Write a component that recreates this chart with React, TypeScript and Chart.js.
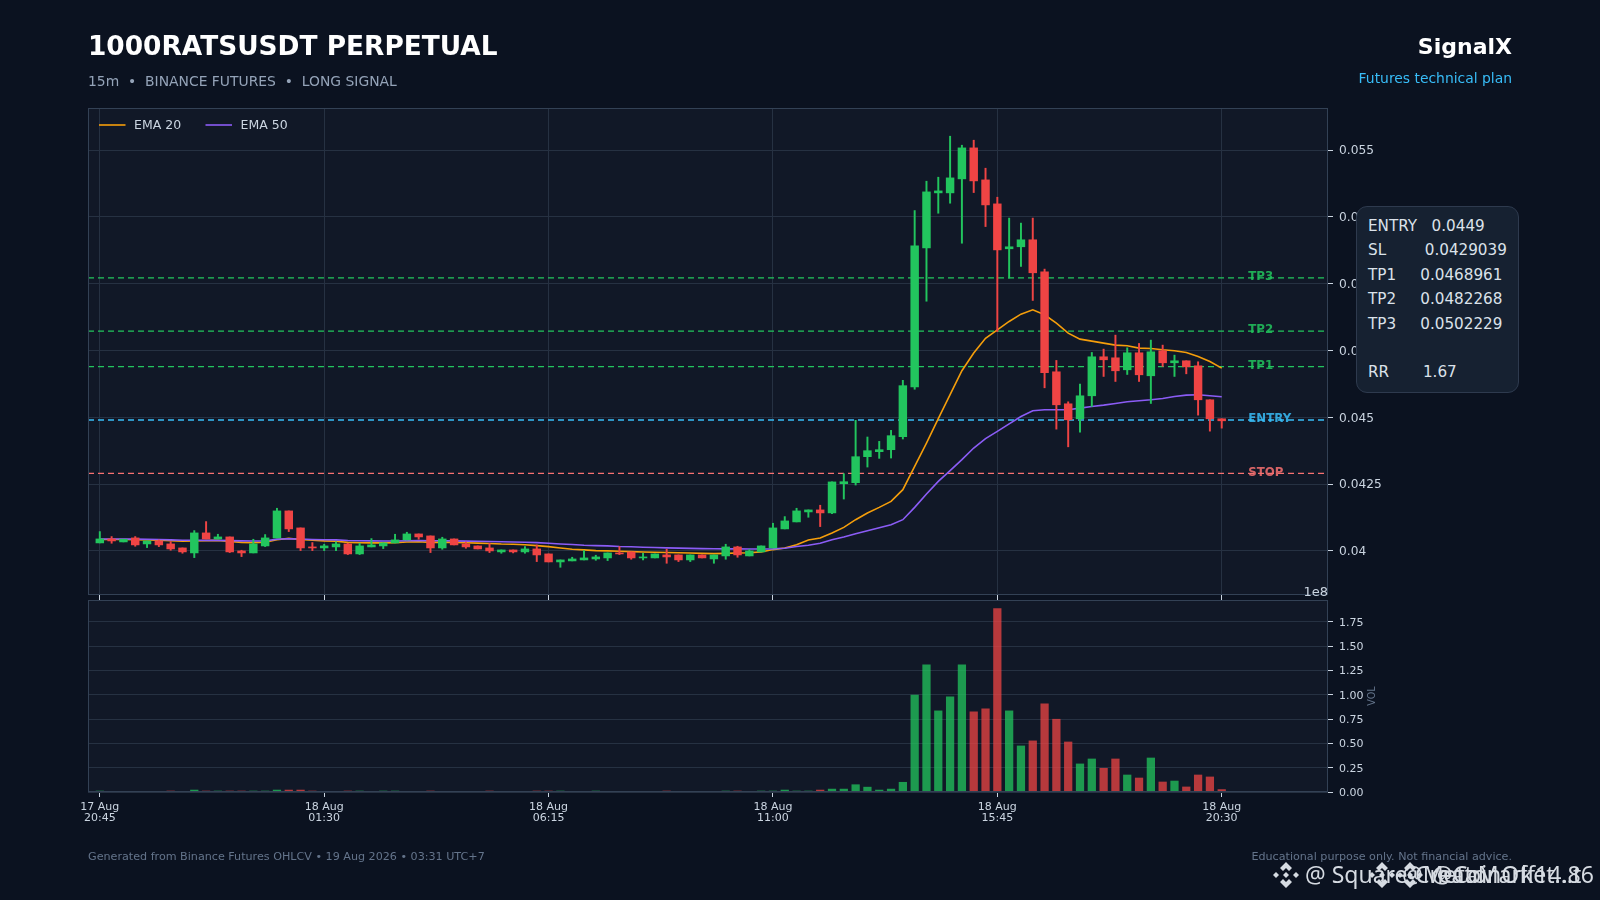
import React, { useEffect, useRef } from "react";
import { Chart, registerables } from "chart.js";

Chart.register(...registerables);

const FONT = '"DejaVu Sans", sans-serif';

const opens = [
  0.0403, 0.040449, 0.040337, 0.040487, 0.040262, 0.040374, 0.040262, 0.040112, 0.039925, 0.040674,
  0.040449, 0.040524, 0.04, 0.039925, 0.040187, 0.040487, 0.041498, 0.040861, 0.04015, 0.040112,
  0.04015, 0.040262, 0.039888, 0.04015, 0.040187, 0.0403, 0.040412, 0.040636, 0.040562, 0.040112,
  0.040449, 0.040262, 0.040187, 0.040112, 0.039963, 0.040037, 0.039963, 0.040075, 0.039888, 0.039588,
  0.039626, 0.039663, 0.0397, 0.039738, 0.039925, 0.039963, 0.039738, 0.039738, 0.03985, 0.03985,
  0.039663, 0.03985, 0.0397, 0.039813, 0.04015, 0.039813, 0.039963, 0.040112, 0.040824, 0.041086,
  0.04146, 0.041535, 0.041423, 0.042516, 0.042554, 0.043527, 0.043715, 0.043789, 0.044276, 0.046139,
  0.051343, 0.053403, 0.053403, 0.053927, 0.055087, 0.053889, 0.052991, 0.05131, 0.051385, 0.051647,
  0.050449, 0.046705, 0.045507, 0.044946, 0.045807, 0.047267, 0.047229, 0.04678, 0.047417, 0.046556,
  0.047491, 0.047042, 0.047117, 0.04693, 0.045657, 0.044946,
];
const highs = [
  0.040724, 0.040537, 0.040437, 0.040537, 0.040374, 0.040412, 0.040349, 0.040112, 0.040761, 0.041098,
  0.040624, 0.040524, 0.040025, 0.040437, 0.040612, 0.041597, 0.041498, 0.040861, 0.040312, 0.04025,
  0.040337, 0.040287, 0.040287, 0.040462, 0.0403, 0.040624, 0.040699, 0.040636, 0.040562, 0.040512,
  0.040449, 0.040337, 0.040187, 0.040287, 0.040037, 0.040037, 0.040162, 0.040225, 0.039888, 0.039663,
  0.039763, 0.040012, 0.039838, 0.039925, 0.040162, 0.039963, 0.039913, 0.039888, 0.040062, 0.03985,
  0.03985, 0.03985, 0.03985, 0.04025, 0.040175, 0.04005, 0.040187, 0.041036, 0.041285, 0.041597,
  0.041535, 0.04171, 0.042583, 0.042891, 0.044888, 0.044264, 0.044101, 0.044513, 0.046385, 0.052741,
  0.053839, 0.053989, 0.055524, 0.055187, 0.055374, 0.054326, 0.05324, 0.052459, 0.052271, 0.052459,
  0.050549, 0.04713, 0.045582, 0.046244, 0.047429, 0.047554, 0.048078, 0.047604, 0.047766, 0.047891,
  0.047704, 0.047329, 0.047117, 0.04708, 0.045657, 0.044946,
];
const lows = [
  0.0403, 0.040287, 0.040337, 0.040175, 0.040125, 0.040162, 0.040025, 0.039913, 0.03975, 0.040449,
  0.040449, 0.039938, 0.039788, 0.039925, 0.040162, 0.040487, 0.040724, 0.040012, 0.040012, 0.040012,
  0.040012, 0.039863, 0.039863, 0.04015, 0.040087, 0.0403, 0.040412, 0.040437, 0.039938, 0.040062,
  0.040225, 0.0401, 0.040075, 0.039938, 0.039913, 0.039925, 0.039913, 0.039601, 0.039588, 0.039388,
  0.039626, 0.039663, 0.03965, 0.039638, 0.039863, 0.039688, 0.039663, 0.039738, 0.039538, 0.039601,
  0.039601, 0.039738, 0.039538, 0.039688, 0.039763, 0.039813, 0.039963, 0.040112, 0.040824, 0.041086,
  0.04126, 0.040911, 0.041398, 0.041942, 0.042467, 0.04314, 0.043465, 0.043477, 0.044189, 0.046052,
  0.049347, 0.052641, 0.053016, 0.051518, 0.053415, 0.052142, 0.048211, 0.050212, 0.050649, 0.049376,
  0.046106, 0.044559, 0.043897, 0.044446, 0.045407, 0.046531, 0.046343, 0.046605, 0.046343, 0.04552,
  0.046905, 0.046531, 0.04663, 0.045083, 0.044484, 0.044596,
];
const closes = [
  0.040449, 0.040374, 0.040437, 0.040225, 0.040374, 0.040225, 0.040075, 0.039963, 0.040674, 0.040449,
  0.040524, 0.039963, 0.039925, 0.040262, 0.040487, 0.041498, 0.040824, 0.040112, 0.040112, 0.040187,
  0.040262, 0.039888, 0.040187, 0.040225, 0.0403, 0.040412, 0.040636, 0.040524, 0.040112, 0.040449,
  0.040225, 0.04015, 0.040075, 0.04, 0.040037, 0.039963, 0.040075, 0.03985, 0.039588, 0.039663,
  0.0397, 0.039738, 0.039775, 0.039925, 0.039888, 0.039738, 0.039775, 0.039888, 0.039775, 0.039663,
  0.03985, 0.039738, 0.03985, 0.04015, 0.03985, 0.04, 0.040187, 0.040861, 0.041123, 0.041498,
  0.041535, 0.041423, 0.042583, 0.042591, 0.043527, 0.043752, 0.043789, 0.044314, 0.046186, 0.051418,
  0.05344, 0.053477, 0.053964, 0.055087, 0.053852, 0.052953, 0.051268, 0.051385, 0.051647, 0.050412,
  0.046668, 0.04547, 0.044908, 0.045807, 0.047267, 0.047155, 0.046743, 0.047417, 0.046593, 0.047454,
  0.047042, 0.047117, 0.046892, 0.045657, 0.044946, 0.044871,
];
const ema20 = [
  0.04043, 0.04043, 0.040425, 0.04042, 0.04041, 0.0404, 0.040385, 0.04036, 0.04037, 0.040385,
  0.040395, 0.040355, 0.04032, 0.04031, 0.040325, 0.04042, 0.04047, 0.04043, 0.0404, 0.040375,
  0.04036, 0.04032, 0.040305, 0.0403, 0.0403, 0.04031, 0.040335, 0.040345, 0.04032, 0.04033,
  0.04032, 0.040305, 0.04029, 0.04028, 0.04026, 0.04025, 0.04023, 0.0402, 0.04016, 0.04011,
  0.04006, 0.04004, 0.04001, 0.04, 0.03999, 0.039975, 0.03996, 0.03995, 0.03994, 0.03993,
  0.039925, 0.03991, 0.0399, 0.03991, 0.03992, 0.03993, 0.039963, 0.04005, 0.040112, 0.04023,
  0.04041, 0.04048, 0.04067, 0.040882, 0.041169, 0.041418, 0.04163, 0.041855, 0.042292, 0.043165,
  0.044039, 0.04495, 0.045849, 0.046747, 0.047409, 0.047961, 0.048273, 0.04859, 0.048864, 0.049027,
  0.048839, 0.048527, 0.048153, 0.047928, 0.047853, 0.047779, 0.047704, 0.047679, 0.047591, 0.047579,
  0.047529, 0.047491, 0.047429, 0.047279, 0.047092, 0.046843,
];
const ema50 = [
  0.040449, 0.040449, 0.040445, 0.04044, 0.040435, 0.040425, 0.040415, 0.0404, 0.0404, 0.040395,
  0.040395, 0.040385, 0.040375, 0.04037, 0.04037, 0.04044, 0.040455, 0.040445, 0.04043, 0.04042,
  0.040415, 0.04039, 0.04038, 0.040375, 0.04037, 0.04037, 0.04038, 0.040385, 0.04038, 0.04038,
  0.040375, 0.040365, 0.04036, 0.040355, 0.040345, 0.040335, 0.040325, 0.04031, 0.040285, 0.04026,
  0.04024, 0.040215, 0.0402, 0.04019, 0.040165, 0.040155, 0.04014, 0.04013, 0.040115, 0.040105,
  0.040095, 0.040085, 0.04008, 0.040075, 0.040075, 0.040072, 0.040072, 0.040078, 0.0401, 0.040165,
  0.040212, 0.040287, 0.04042, 0.04052, 0.040644, 0.040757, 0.040869, 0.040981, 0.041169, 0.04163,
  0.04213, 0.042604, 0.043003, 0.043415, 0.043852, 0.044201, 0.044476, 0.044758, 0.045033, 0.045245,
  0.045283, 0.045283, 0.045283, 0.045345, 0.045407, 0.045457, 0.04552, 0.045582, 0.04562, 0.045657,
  0.045707, 0.045782, 0.045832, 0.045844, 0.045807, 0.045769,
];
const volumes = [
  0.01, 0, 0, 0, 0, 0, 0.01, 0, 0.02, 0.01,
  0.01, 0.01, 0.01, 0.01, 0.01, 0.02, 0.02, 0.02, 0.01, 0,
  0, 0.01, 0.01, 0, 0.01, 0.01, 0, 0, 0.01, 0,
  0, 0, 0, 0.01, 0, 0, 0, 0.01, 0.01, 0.01,
  0, 0, 0.01, 0, 0, 0, 0, 0, 0.01, 0,
  0, 0, 0, 0.01, 0.01, 0, 0.01, 0.01, 0.02, 0.01,
  0.01, 0.02, 0.03, 0.03, 0.075, 0.05, 0.02, 0.03, 0.1, 0.997,
  1.31, 0.835, 0.98, 1.31, 0.825, 0.856, 1.887, 0.835, 0.474, 0.526,
  0.907, 0.749, 0.515, 0.289, 0.34, 0.244, 0.34, 0.175, 0.144, 0.35,
  0.103, 0.113, 0.052, 0.175, 0.155, 0.025,
];

const levelNames = ["TP3", "TP2", "TP1", "ENTRY", "STOP"];
const levelValues = [0.0502229, 0.0482268, 0.0468961, 0.0449, 0.0429039];
const levelColors = ["#22c55e", "#22c55e", "#22c55e", "#38bdf8", "#f87171"];

const xTickIndexes = [0, 19, 38, 57, 76, 95];
const xTickLabels = [
  ["17 Aug", "20:45"],
  ["18 Aug", "01:30"],
  ["18 Aug", "06:15"],
  ["18 Aug", "11:00"],
  ["18 Aug", "15:45"],
  ["18 Aug", "20:30"],
];
const priceTicks = [0.04, 0.0425, 0.045, 0.0475, 0.05, 0.0525, 0.055];
const volumeTicks = [0, 0.25, 0.5, 0.75, 1, 1.25, 1.5, 1.75];
const panelLines = [
  "ENTRY   0.0449",
  "SL        0.0429039",
  "TP1     0.0468961",
  "TP2     0.0482268",
  "TP3     0.0502229",
  " ",
  "RR       1.67",
];

const GREEN = "#22c55e";
const RED = "#ef4444";
const AXES_BG = "#111827";
const GRID = "#263142";
const BORDER = "#334155";
const TICK = "#cbd5e1";
const X_MIN = -1;
const X_MAX = 104;

const panelBackground = {
  id: "panelBackground",
  beforeDraw(chart: any) {
    const { ctx, chartArea: a } = chart;
    ctx.save();
    ctx.fillStyle = AXES_BG;
    ctx.fillRect(a.left, a.top, a.right - a.left, a.bottom - a.top);
    ctx.restore();
  },
  afterDraw(chart: any) {
    const { ctx, chartArea: a } = chart;
    ctx.save();
    ctx.strokeStyle = BORDER;
    ctx.lineWidth = 1;
    ctx.strokeRect(a.left + 0.5, a.top + 0.5, a.right - a.left - 1, a.bottom - a.top - 1);
    ctx.restore();
  },
};

const levelLabels = {
  id: "levelLabels",
  beforeDatasetsDraw(chart: any) {
    const { ctx, scales } = chart;
    ctx.save();
    ctx.font = `bold 11.8px ${FONT}`;
    ctx.textBaseline = "middle";
    ctx.globalAlpha = 0.85;
    levelNames.forEach((name, i) => {
      ctx.fillStyle = levelColors[i];
      ctx.fillText(name, scales.x.getPixelForValue(97.25), scales.y.getPixelForValue(levelValues[i]) - 0.8);
    });
    ctx.restore();
  },
};

const emaLegend = {
  id: "emaLegend",
  afterDatasetsDraw(chart: any) {
    const { ctx, chartArea: a } = chart;
    const y = a.top + 17;
    ctx.save();
    ctx.font = `12.5px ${FONT}`;
    ctx.textBaseline = "middle";
    let x = a.left + 11;
    chart.data.datasets
      .filter((d: any) => String(d.label).startsWith("EMA"))
      .forEach((d: any) => {
        ctx.strokeStyle = d.borderColor;
        ctx.lineWidth = d.borderWidth;
        ctx.beginPath();
        ctx.moveTo(x, y);
        ctx.lineTo(x + 26.5, y);
        ctx.stroke();
        ctx.fillStyle = "#cbd5e1";
        ctx.fillText(d.label, x + 35, y + 1);
        x += 106.5;
      });
    ctx.restore();
  },
};

const pos = (extra: any) => ({ position: "absolute", whiteSpace: "pre", fontFamily: FONT, lineHeight: 1, ...extra });

function Logo({ x, y }: { x: number; y: number }) {
  const c = "#d6dbe2";
  return (
    <svg width={28} height={28} viewBox="0 0 28 28" style={{ position: "absolute", left: x, top: y }}>
      <path d="M14 1 L20 7 L17 10 L14 7 L11 10 L8 7 Z" fill={c} />
      <path d="M14 27 L20 21 L17 18 L14 21 L11 18 L8 21 Z" fill={c} />
      <path d="M4 11 L7 14 L4 17 L1 14 Z" fill={c} />
      <path d="M24 11 L27 14 L24 17 L21 14 Z" fill={c} />
      <path d="M14 11 L17 14 L14 17 L11 14 Z" fill={c} />
    </svg>
  );
}

export default function App() {
  const mainRef = useRef<HTMLCanvasElement>(null);
  const volRef = useRef<HTMLCanvasElement>(null);

  useEffect(() => {
    const xs = opens.map((_, i) => i);
    const isUp = (i: number) => closes[i] >= opens[i];
    const candleColors = xs.map((i) => (isUp(i) ? GREEN : RED));
    const volColors = xs.map((i) => (isUp(i) ? "rgba(34,197,94,0.75)" : "rgba(239,68,68,0.75)"));

    const main = new Chart(mainRef.current!, {
      type: "bar",
      data: {
        datasets: [
          ...levelNames.map((name, i) => ({
            type: "line" as const,
            label: name,
            data: [
              { x: X_MIN, y: levelValues[i] },
              { x: X_MAX, y: levelValues[i] },
            ],
            borderColor: levelColors[i],
            borderWidth: 1.3,
            borderDash: [6, 4],
            pointRadius: 0,
            order: 5,
          })),
          {
            type: "line" as const,
            label: "EMA 20",
            data: xs.map((i) => ({ x: i, y: ema20[i] })),
            borderColor: "#f59e0b",
            backgroundColor: "#f59e0b",
            borderWidth: 1.6,
            pointRadius: 0,
            order: 4,
          },
          {
            type: "line" as const,
            label: "EMA 50",
            data: xs.map((i) => ({ x: i, y: ema50[i] })),
            borderColor: "#8b5cf6",
            backgroundColor: "#8b5cf6",
            borderWidth: 1.6,
            pointRadius: 0,
            order: 3,
          },
          {
            label: "wick",
            data: xs.map((i) => ({ x: i, y: [lows[i], highs[i]] })),
            backgroundColor: candleColors,
            barThickness: 1.3,
            grouped: false,
            order: 2,
          },
          {
            label: "body",
            data: xs.map((i) => ({ x: i, y: [opens[i], closes[i]] })),
            backgroundColor: candleColors,
            barThickness: 7.8,
            grouped: false,
            order: 1,
          },
        ] as any,
      },
      options: {
        animation: false,
        responsive: false,
        events: [],
        layout: { padding: { left: 88, top: 108, right: 212, bottom: 300 } },
        plugins: {
          tooltip: { enabled: false },
          title: { display: false },
          legend: { display: false },
        },
        scales: {
          x: {
            type: "linear",
            offset: false,
            min: X_MIN,
            max: X_MAX,
            afterBuildTicks: (s: any) => {
              s.ticks = xTickIndexes.map((value) => ({ value }));
            },
            afterFit: (s: any) => {
              s.height = 5;
            },
            ticks: { display: false },
            grid: { offset: false, color: GRID, tickColor: TICK, tickLength: 5, lineWidth: 1 },
            border: { display: false },
          },
          y: {
            position: "right",
            min: 0.03835,
            max: 0.05658,
            afterBuildTicks: (s: any) => {
              s.ticks = priceTicks.map((value) => ({ value }));
            },
            afterFit: (s: any) => {
              s.width = 60;
            },
            ticks: {
              color: "#cbd5e1",
              font: { family: FONT, size: 12.2 },
              padding: 6,
              labelOffset: 1,
              callback: (v: any) => String(v),
            },
            grid: { color: GRID, tickColor: TICK, tickLength: 5, lineWidth: 1 },
            border: { display: false },
          },
        },
      },
      plugins: [panelBackground, levelLabels, emaLegend],
    } as any);

    const vol = new Chart(volRef.current!, {
      type: "bar",
      data: {
        datasets: [
          {
            label: "Volume",
            data: xs.map((i) => ({ x: i, y: volumes[i] })),
            backgroundColor: volColors,
            barThickness: 7.6,
            grouped: false,
          },
        ],
      } as any,
      options: {
        animation: false,
        responsive: false,
        events: [],
        layout: { padding: { left: 88, top: 600, right: 212, bottom: 68 } },
        plugins: { legend: { display: false }, tooltip: { enabled: false } },
        scales: {
          x: {
            type: "linear",
            offset: false,
            min: X_MIN,
            max: X_MAX,
            afterBuildTicks: (s: any) => {
              s.ticks = xTickIndexes.map((value) => ({ value }));
            },
            afterFit: (s: any) => {
              s.height = 40;
            },
            ticks: {
              color: "#cbd5e1",
              font: { family: FONT, size: 11, lineHeight: 1.03 },
              padding: 4,
              maxRotation: 0,
              autoSkip: false,
              callback: (v: any) => xTickLabels[xTickIndexes.indexOf(v)],
            },
            grid: { offset: false, drawOnChartArea: false, tickColor: TICK, tickLength: 5 },
            border: { display: false },
          },
          y: {
            position: "right",
            min: 0,
            max: 1.976,
            afterBuildTicks: (s: any) => {
              s.ticks = volumeTicks.map((value) => ({ value }));
            },
            afterFit: (s: any) => {
              s.width = 60;
            },
            ticks: {
              color: "#cbd5e1",
              font: { family: FONT, size: 11 },
              padding: 6,
              labelOffset: 1,
              callback: (v: any) => Number(v).toFixed(2),
            },
            grid: { color: GRID, tickColor: TICK, tickLength: 5, lineWidth: 1 },
            border: { display: false },
          },
        },
      },
      plugins: [panelBackground],
    } as any);

    return () => {
      main.destroy();
      vol.destroy();
    };
  }, []);

  const canvasStyle: any = { position: "absolute", left: 0, top: 0, width: 1600, height: 900 };

  return (
    <div style={{ position: "fixed", left: 0, top: 0, width: 1600, height: 900, background: "#0b1220", overflow: "hidden" }}>
      <canvas ref={mainRef} width={1600} height={900} style={canvasStyle} />
      <canvas ref={volRef} width={1600} height={900} style={canvasStyle} />

      <div style={pos({ left: 88, top: 33, fontSize: 26.4, fontWeight: 700, color: "#ffffff" })}>1000RATSUSDT PERPETUAL</div>
      <div style={pos({ left: 88, top: 75, fontSize: 13.9, color: "#94a3b8" })}>15m  •  BINANCE FUTURES  •  LONG SIGNAL</div>
      <div style={pos({ right: 88, top: 36, fontSize: 22, fontWeight: 700, color: "#ffffff" })}>SignalX</div>
      <div style={pos({ right: 88, top: 72, fontSize: 13.9, color: "#38bdf8" })}>Futures technical plan</div>

      <div style={pos({ right: 272, top: 585, fontSize: 13, color: "#cbd5e1" })}>1e8</div>
      <div
        style={pos({
          left: 1372,
          top: 696,
          fontSize: 9.7,
          color: "#64748b",
          transform: "translate(-50%,-50%) rotate(-90deg)",
        })}
      >
        VOL
      </div>

      <div
        style={{
          position: "absolute",
          left: 1356,
          top: 206,
          width: 163,
          height: 187,
          boxSizing: "border-box",
          background: "#162131",
          border: "1px solid #2e3a4e",
          borderRadius: 11,
        }}
      />
      <div style={pos({ left: 1368, top: 214, fontSize: 15.2, lineHeight: "24.4px", color: "#dbe2ea" })}>
        {panelLines.map((line, i) => (
          <div key={i}>{line}</div>
        ))}
      </div>

      <div style={pos({ left: 88, top: 851, fontSize: 11.15, color: "#64748b" })}>
        Generated from Binance Futures OHLCV • 19 Aug 2026 • 03:31 UTC+7
      </div>
      <div style={pos({ right: 88, top: 851, fontSize: 11.15, color: "#64748b" })}>
        Educational purpose only. Not financial advice.
      </div>

      <Logo x={1272} y={861} />
      <Logo x={1368} y={861} />
      <Logo x={1396} y={861} />
      <div style={pos({ left: 1305, top: 863, fontSize: 23, fontFamily: '"Noto Sans", sans-serif', color: "#d6dbe2" })}>
        @ Square-Creator
      </div>
      <div style={pos({ left: 1432, top: 863, fontSize: 23, fontFamily: '"Noto Sans", sans-serif', color: "#d6dbe2" })}>
        @CoinOff14.86
      </div>
      <div style={pos({ left: 1402, top: 863, fontSize: 23, fontFamily: '"Noto Sans", sans-serif', color: "#d6dbe2" })}>
        @MetaMarket...t
      </div>
    </div>
  );
}
